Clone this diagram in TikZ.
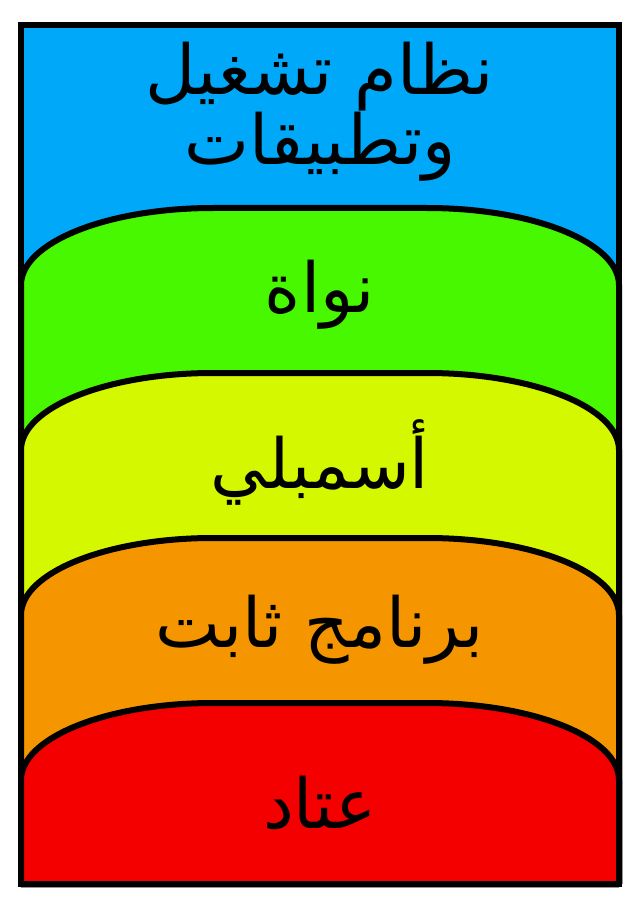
\documentclass[tikz,border=0pt]{standalone}
\usepackage{fontspec}
\newfontfamily\arabicfont[Script=Arabic]{DejaVu Sans}
\TeXXeTstate=1
\definecolor{cblue}{RGB}{0,168,250}
\definecolor{cgreen}{RGB}{72,248,0}
\definecolor{cyellow}{RGB}{212,248,0}
\definecolor{corange}{RGB}{245,150,0}
\definecolor{cred}{RGB}{245,0,0}
\tikzset{
  layer/.style={draw=black, line width=6pt, line join=round},
  lbl/.style={font=\arabicfont\fontsize{69}{66}\selectfont, text=black, align=center, inner sep=0pt},
}
\newcommand{\domepath}[1]{%
  (21,884) -- (21,#1+77) .. controls (21,#1+77-42.5) and (213-106,#1) .. (213,#1)
  -- (427,#1) .. controls (427+106,#1) and (619,#1+77-42.5) .. (619,#1+77) -- (619,884) -- cycle}
\begin{document}
\begin{tikzpicture}[x=1pt,y=-1pt]
\useasboundingbox (0,0) rectangle (640,909);
\fill[cblue] (21,25) rectangle (619,884);
\filldraw[layer, fill=cgreen] \domepath{208};
\filldraw[layer, fill=cyellow] \domepath{373};
\filldraw[layer, fill=corange] \domepath{538};
\filldraw[layer, fill=cred] \domepath{703};
\draw[line width=6pt] (21,25) rectangle (619,884);
\node[lbl] (os) at (320,112) {\beginR نظام تشغيل\endR\\\beginR وتطبيقات\endR};
\node[lbl] (kernel) at (320,295) {\beginR نواة\endR};
\node[lbl] (asm) at (320,462) {\beginR أسمبلي\endR};
\node[lbl] (fw) at (320,630) {\beginR برنامج ثابت\endR};
\node[lbl] (hw) at (320,803) {\beginR عتاد\endR};
\end{tikzpicture}
\end{document}
